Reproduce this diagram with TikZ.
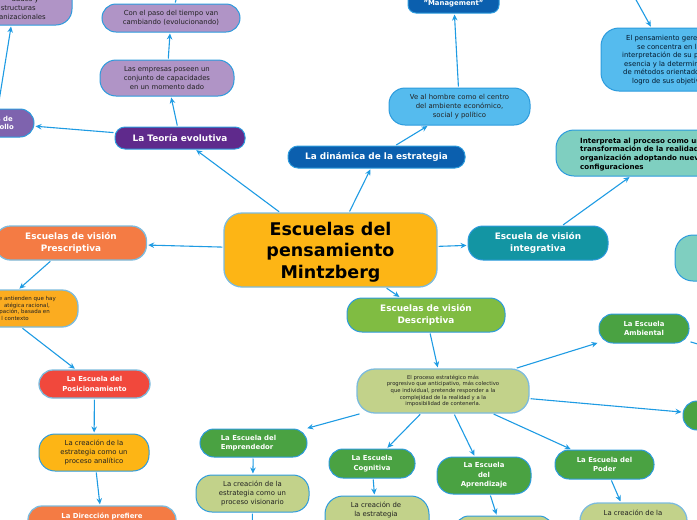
\documentclass[tikz,border=0pt]{standalone}
\usepackage{fontspec}
\setmainfont{DejaVu Sans}
\usetikzlibrary{arrows.meta}
\definecolor{edge}{HTML}{1E9BE3}
\definecolor{soft}{HTML}{7CBBDD}
\definecolor{hard}{HTML}{2C9BDD}
\definecolor{ink}{HTML}{222222}
\definecolor{cPurple}{HTML}{5F2A8C}
\definecolor{cLilac}{HTML}{B094C6}
\definecolor{cViolet}{HTML}{7E63AE}
\definecolor{cNavy}{HTML}{0B5FAE}
\definecolor{cSky}{HTML}{55BBEE}
\definecolor{cMint}{HTML}{7FCFC0}
\definecolor{cTeal}{HTML}{1395A3}
\definecolor{cOrange}{HTML}{F47B44}
\definecolor{cAmber}{HTML}{FDB515}
\definecolor{cAmberB}{HTML}{FBAC20}
\definecolor{cRed}{HTML}{F1483C}
\definecolor{cLime}{HTML}{80BC42}
\definecolor{cOlive}{HTML}{C2D28A}
\definecolor{cGreen}{HTML}{4AA242}
\tikzset{
 x=1pt,y=-1pt,
 box/.style={draw=hard,line width=1pt,inner sep=0pt,align=center,rounded corners=14pt,text=ink,font=\fontsize{6.9}{9}\selectfont},
 softbox/.style={box,draw=soft,line width=1.3pt},
 headA/.style={font=\fontsize{8.9}{12}\bfseries\selectfont,text=white},
 headB/.style={font=\fontsize{6.9}{9.4}\bfseries\selectfont,text=white},
 frag/.style={inner sep=0pt,text=ink,font=\fontsize{6.9}{8.6}\selectfont},
 conn/.style={draw=edge,line width=1.1pt,-{Stealth[length=6pt,width=5.5pt]},shorten <=1pt,shorten >=1pt},
 stub/.style={draw=edge,line width=1.1pt,shorten <=1pt},
}
\begin{document}
\begin{tikzpicture}
\useasboundingbox (0,0) rectangle (697,520);
\clip (0,0) rectangle (697,520);
% nodes
\node[softbox,fill=cAmber,rounded corners=18pt,minimum width=213pt,minimum height=74pt] (root) at (330.5,250) {};
\node[inner sep=0pt,align=center,text=black,font=\fontsize{17.5}{21.5}\bfseries\selectfont] (rootT) at (330.5,252) {Escuelas del\\pensamiento\\Mintzberg};
\node[box,fill=cPurple,headA,minimum width=130pt,minimum height=22pt,rounded corners=10pt] (evol) at (180,138) {La Teoría evolutiva};
\node[box,fill=cLilac,minimum width=134pt,minimum height=36pt,rounded corners=16pt] (emp) at (167,78) {Las empresas poseen un\\conjunto de capacidades\\en un momento dado};
\node[box,fill=cLilac,minimum width=138pt,minimum height=28pt] (paso) at (171,18) {Con el paso del tiempo van\\cambiando (evolucionando)};
\coordinate (pasoUp) at (187,-40);
\node[box,fill=cLilac,minimum width=114pt,minimum height=46pt,rounded corners=16pt] (orgz) at (15,2) {};
\node[frag,align=right,anchor=east] (orgzT) at (46,8) {dades y\kern7pt\\structuras\kern10pt\\anizacionales};
\node[box,fill=cViolet,minimum width=77pt,minimum height=28pt] (desa) at (-4.5,123) {};
\node[frag,align=right,anchor=east,text=white,font=\fontsize{6.9}{8.6}\bfseries\selectfont] (desaT) at (14,123) {s de\kern1pt\\ollo};
\node[box,fill=cNavy,headA,minimum width=177pt,minimum height=22pt,rounded corners=10pt] (dina) at (376.5,157) {La dinámica de la estrategia};
\node[box,fill=cSky,minimum width=141pt,minimum height=37pt,rounded corners=16pt] (homb) at (459.5,106.5) {Ve al hombre como el centro\\del ambiente económico,\\social y político};
\node[box,fill=cNavy,minimum width=91pt,minimum height=32pt,rounded corners=8pt] (mana) at (453.5,-3) {};
\node[inner sep=0pt,text=white,font=\fontsize{6.9}{8.6}\bfseries\selectfont] (manaT) at (453.5,3.5) {"Management"};
\coordinate (pensUp) at (614,-40);
\node[box,fill=cSky,minimum width=136pt,minimum height=63pt,rounded corners=18pt] (pens) at (669,59.5) {};
\node[frag,align=left,anchor=west,text=black!75!cNavy] (pensT) at (622,60) {\kern4pt El pensamiento gerencial\\\kern15pt se concentra en la\\interpretación de su propia\\\kern2pt esencia y la determinación\\\kern1pt de métodos orientados\\\kern10pt logro de sus objetivos};
\node[box,fill=cMint,minimum width=214pt,minimum height=46pt,rounded corners=18pt] (inte) at (663,153) {};
\node[frag,align=left,anchor=west,text=black,font=\fontsize{7.1}{8.9}\bfseries\selectfont] (inteT) at (580,154.5) {Interpreta al proceso como una\\transformación de la realidad\\organización adoptando nuevas\\configuraciones};
\node[box,fill=cTeal,headA,minimum width=140pt,minimum height=34pt,rounded corners=15pt] (vint) at (538,243) {Escuela de visión\\integrativa};
\node[box,fill=cMint,minimum width=90pt,minimum height=46pt,rounded corners=18pt] (circ) at (720,258) {};
\node[softbox,fill=cOrange,headA,minimum width=151pt,minimum height=34pt,rounded corners=15pt] (pres) at (71,243) {Escuelas de visión\\Prescriptiva};
\node[softbox,fill=cAmberB,minimum width=162pt,minimum height=37pt,rounded corners=16pt] (anti) at (-3,308.5) {};
\node[frag,align=right,anchor=east,font=\fontsize{5.5}{6.5}\selectfont] (antiT) at (56,308.5) {e antienden que hay\\atégica racional,\kern6pt\\pación, basada en\kern6pt\\l contexto\kern27pt};
\node[softbox,fill=cRed,headB,minimum width=111pt,minimum height=28pt] (posi) at (94.5,384) {La Escuela del\\Posicionamiento};
\node[box,fill=cAmber,minimum width=110pt,minimum height=37pt,rounded corners=16pt] (anal) at (94,452.5) {La creación de la\\estrategia como un\\proceso analítico};
\node[softbox,fill=cOrange,minimum width=148pt,minimum height=34pt,rounded corners=14pt] (dire) at (102,523) {};
\node[inner sep=0pt,text=white,font=\fontsize{6.9}{8.6}\bfseries\selectfont] (direT) at (102,516) {La Dirección prefiere};
\node[box,fill=cLime,headA,minimum width=158pt,minimum height=34pt,rounded corners=15pt] (desc) at (426,315) {Escuelas de visión\\Descriptiva};
\node[softbox,fill=cOlive,minimum width=172pt,minimum height=44pt,rounded corners=18pt,font=\fontsize{5.3}{6.6}\selectfont] (proc) at (443,391) {El proceso estratégico más\\progresivo que anticipativo, más colectivo\\que individual, pretende responder a la\\complejidad de la realidad y a la\\imposibilidad de contenerla.};
\node[box,fill=cGreen,headB,minimum width=107pt,minimum height=28pt,align=left] (empr) at (253.5,443) {La Escuela del\kern10pt\\Emprendedor};
\node[box,fill=cOlive,minimum width=113pt,minimum height=37pt,rounded corners=16pt] (visi) at (252.5,493.5) {La creación de la\\estrategia como un\\proceso visionario};
\coordinate (visiDn) at (252,560);
\node[box,fill=cGreen,headB,minimum width=86pt,minimum height=29pt] (cogn) at (372,463.5) {La Escuela\\Cognitiva};
\node[box,fill=cOlive,minimum width=104pt,minimum height=64pt,rounded corners=18pt] (cogT) at (377,528) {};
\node[inner sep=0pt,align=center,text=ink,font=\fontsize{6.9}{9}\selectfont] (cogL) at (376,510) {La creación de\\la estrategia};
\node[box,fill=cGreen,headB,minimum width=94pt,minimum height=37pt,rounded corners=16pt] (apre) at (484,475.5) {La Escuela\\del\\Aprendizaje};
\node[box,fill=cOlive,minimum width=98pt,minimum height=44pt,rounded corners=14pt] (apT) at (504,538) {};
\node[box,fill=cGreen,headB,minimum width=99pt,minimum height=29pt] (pode) at (604.5,464.5) {La Escuela del\\Poder};
\node[softbox,fill=cOlive,minimum width=107pt,minimum height=57pt,rounded corners=18pt] (poT) at (633.5,531.5) {};
\node[inner sep=0pt,text=ink,font=\fontsize{6.9}{9}\selectfont] (poL) at (633,512.5) {La creación de la};
\node[box,fill=cGreen,headB,minimum width=90pt,minimum height=29pt] (ambi) at (644,328.5) {La Escuela\\Ambiental};
\coordinate (ambiR) at (760,362);
\node[box,fill=cGreen,minimum width=76pt,minimum height=29pt] (gree) at (721,415.5) {};
% connectors
\draw[conn] (root) -- (evol);
\draw[conn] (root) -- (dina);
\draw[conn] (root) -- (vint);
\draw[conn] (root) -- (pres);
\draw[conn] (root) -- (desc);
\draw[conn] (evol) -- (emp);
\draw[conn] (evol) -- (desa);
\draw[conn] (emp) -- (paso);
\draw[stub] (paso) -- (pasoUp);
\draw[conn] (desa) -- (orgz);
\draw[conn] (dina) -- (homb);
\draw[conn] (homb) -- (mana);
\draw[conn] (pensUp) -- (pens);
\draw[conn] (vint) -- (inte);
\draw[conn] (pres) -- (anti);
\draw[conn] (anti) -- (posi);
\draw[conn] (posi) -- (anal);
\draw[conn] (anal) -- (dire);
\draw[conn] (desc) -- (proc);
\draw[conn] (proc) -- (empr);
\draw[conn] (proc) -- (cogn);
\draw[conn] (proc) -- (apre);
\draw[conn] (proc) -- (pode);
\draw[conn] (proc) -- (ambi);
\draw[conn] (proc) -- (gree);
\draw[stub] (ambi) -- (ambiR);
\draw[stub] (visi) -- (visiDn);
\draw[conn] (empr) -- (visi);
\draw[conn] (cogn) -- (cogT);
\draw[conn] (apre) -- (apT);
\draw[conn] (pode) -- (poT);
\end{tikzpicture}
\end{document}
